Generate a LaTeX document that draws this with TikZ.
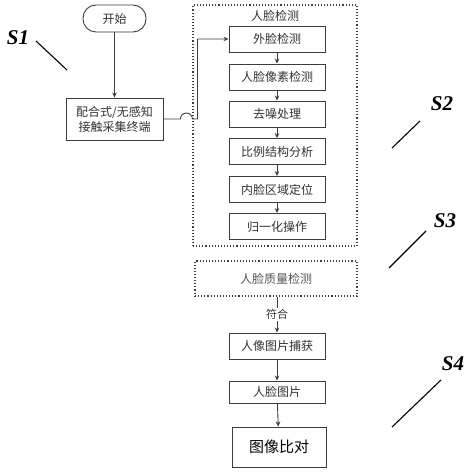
\documentclass[tikz,border=0pt]{standalone}
\usepackage{fontspec}
\setmainfont{Liberation Serif}
\newfontfamily\cjk{Noto Sans CJK SC}
\usetikzlibrary{arrows.meta, positioning}
\definecolor{ink}{HTML}{333333}
\definecolor{muted}{HTML}{555555}
\definecolor{rule}{HTML}{3C3C3C}
\tikzset{
  >={Stealth[length=5pt, width=4.5pt]},
  %
  box/.style={
    draw=rule, line width=0.9pt, fill=white, inner sep=2pt, align=center,
    text=ink, minimum width=96pt, minimum height=26pt,
    font=\cjk\fontsize{12}{15}\selectfont,
  },
  startbox/.style={box, rounded corners=13pt, minimum width=63pt, minimum height=27pt},
  bigbox/.style={box, minimum width=94pt, minimum height=40pt,
                 font=\cjk\fontsize{15}{18}\selectfont, text=black},
  group/.style={draw=rule, line width=1.1pt, dotted, inner sep=0pt},
  %
  flow/.style={draw=rule, line width=0.9pt, ->},
  lead/.style={draw=black, line width=1.1pt},
  %
  lbl/.style={font=\cjk\fontsize{11}{13}\selectfont, text=ink, fill=white, inner sep=1pt},
  stag/.style={font=\fontsize{21}{21}\selectfont\bfseries\itshape, text=black, inner sep=0pt},
}
\begin{document}
\begin{tikzpicture}[x=1pt, y=-1pt]
  \useasboundingbox (0,0) rectangle (474,473);

  % --- collection ---------------------------------------------------------
  \node[startbox] (start) at (114.5,18.5) {开始};
  \node[box, minimum width=97pt, minimum height=42pt] (term) at (114.5,119)
    {配合式/无感知\\接触采集终端};

  % --- face detection group -----------------------------------------------
  \node[group, minimum width=164pt, minimum height=241pt] (det) at (275,125.5) {};
  \node[font=\cjk\fontsize{12}{14}\selectfont, text=ink] (dettitle) at (275,16) {人脸检测};

  \node[box] (outer) at (277,39)    {外脸检测};
  \node[box] (pixel) at (277,77)    {人脸像素检测};
  \node[box] (denoise) at (277,114) {去噪处理};
  \node[box] (ratio) at (277,151.5) {比例结构分析};
  \node[box] (inner) at (277,189.5) {内脸区域定位};
  \node[box] (norm) at (277,226.5)  {归一化操作};

  % --- quality and comparison ---------------------------------------------
  \node[group, minimum width=162pt, minimum height=35pt, text=muted,
        font=\cjk\fontsize{12}{14}\selectfont] (qual) at (276,278.5) {人脸质量检测};
  \node[box] (capture) at (277,346) {人像图片捕获};
  \node[box, minimum height=22pt] (face) at (277,392) {人脸图片};
  \node[bigbox] (compare) at (279,447) {图像比对};

  % --- connectors ---------------------------------------------------------
  \draw[flow] (start) -- (term);
  \draw[flow] (term.east) -- ++(17,0) arc[start angle=180, end angle=360, radius=6]
    -- ++(5,0) |- (outer.west);
  \draw[flow] (outer) -- (pixel);
  \draw[flow] (pixel) -- (denoise);
  \draw[flow] (denoise) -- (ratio);
  \draw[flow] (ratio) -- (inner);
  \draw[flow] (inner) -- (norm);
  \draw[flow] (qual.south -| capture) -- node[lbl] {符合} (capture);
  \draw[flow] (capture) -- (face);
  \draw[flow] (face) -- (compare);

  % --- step tags ----------------------------------------------------------
  \node[stag] (s1) at (18,38) {S1};
  \node[stag] (s2) at (442,104) {S2};
  \node[stag] (s3) at (445,221) {S3};
  \node[stag] (s4) at (453,364) {S4};
  \coordinate (s1a) at (36,41);  \coordinate (s1b) at (67,70);
  \coordinate (s2a) at (420,121); \coordinate (s2b) at (392,148);
  \coordinate (s3a) at (426,231); \coordinate (s3b) at (389,268);
  \coordinate (s4a) at (441,380); \coordinate (s4b) at (392,427);
  \draw[lead] (s1a) -- (s1b);
  \draw[lead] (s2a) -- (s2b);
  \draw[lead] (s3a) -- (s3b);
  \draw[lead] (s4a) -- (s4b);

\end{tikzpicture}
\end{document}
